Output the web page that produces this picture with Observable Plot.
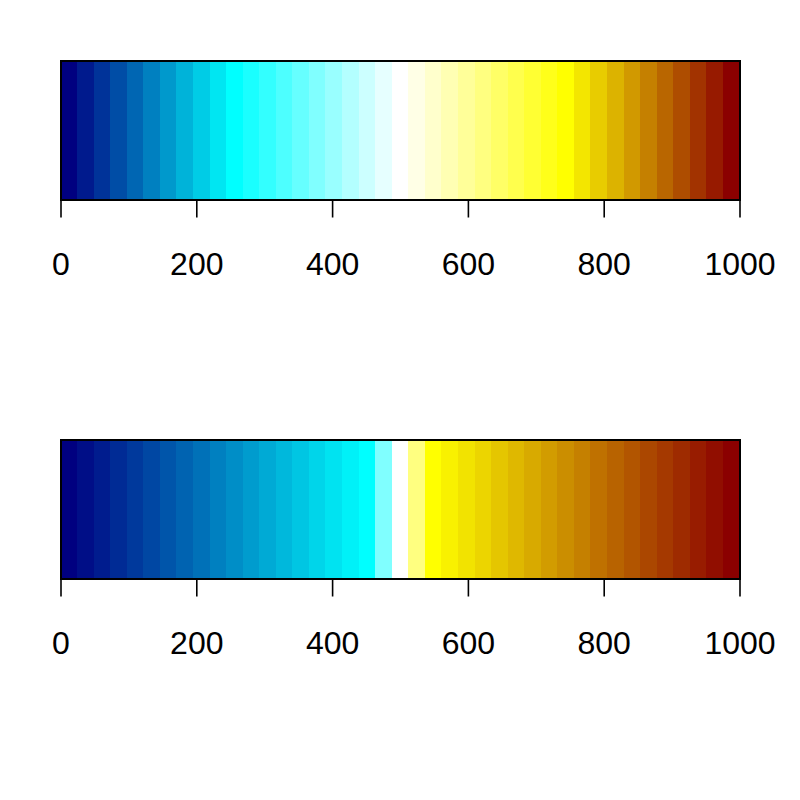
<!DOCTYPE html>
<html>
<head>
<meta charset="utf-8">
<script src="https://cdn.jsdelivr.net/npm/d3@7"></script>
<script src="https://cdn.jsdelivr.net/npm/@observablehq/plot@0.6"></script>
<style>
  html, body { margin: 0; padding: 0; background: #fff; }
  #chart { width: 800px; height: 800px; position: relative; }
  #chart svg { display: block; position: absolute; left: 0; }
</style>
</head>
<body>
<div id="chart"></div>
<script>
// ---- data ----
const bandCount = 41;                 // number of colour bands in each bar
const xDomain = [0, 1000];
const tickValues = [0, 200, 400, 600, 800, 1000];

// top palette: anchor band indices and colours
const topStops = [0, 10, 20, 30, 40];
const topColors = ["#000080", "#00FFFF", "#FFFFFF", "#FFFF00", "#8B0000"];

// bottom palette: anchor band indices and colours (centre compressed)
const bottomStops = [0, 18, 20, 22, 40];
const bottomColors = ["#000080", "#00FFFF", "#FFFFFF", "#FFFF00", "#8B0000"];

// ---- build ----
const bandWidth = (xDomain[1] - xDomain[0]) / bandCount;
const bands = d3.range(bandCount).map(k => ({
  k,
  x1: xDomain[0] + k * bandWidth,
  x2: xDomain[0] + (k + 1) * bandWidth
}));

function colorBar(stops, colors, top, height) {
  return Plot.plot({
    width: 800,
    height: height,
    marginLeft: 60.5,
    marginRight: 60.5,
    marginTop: top,
    marginBottom: height - top - 139,
    style: { fontFamily: "'Liberation Sans', Arial, Helvetica, sans-serif", background: "white", color: "black" },
    x: { domain: xDomain, axis: null },
    y: { domain: [0, 1], axis: null },
    color: { type: "linear", domain: stops, range: colors, interpolate: "rgb" },
    marks: [
      Plot.rect(bands, { x1: "x1", x2: "x2", y1: 0, y2: 1, fill: "k", shapeRendering: "crispEdges" }),
      Plot.frame({ stroke: "black", strokeWidth: 2 }),
      Plot.axisX({
        ticks: tickValues,
        tickFormat: d => String(d),
        tickSize: 18,
        tickPadding: 34,
        fontSize: 32,
        strokeWidth: 1.6,
        stroke: "black",
        fill: "black",
        label: null
      })
    ]
  });
}

const chart = document.getElementById("chart");
const p1 = colorBar(topStops, topColors, 60.5, 380);
p1.style.top = "0px";
chart.appendChild(p1);
const p2 = colorBar(bottomStops, bottomColors, 59.5, 420);
p2.style.top = "380px";
chart.appendChild(p2);
</script>
</body>
</html>
